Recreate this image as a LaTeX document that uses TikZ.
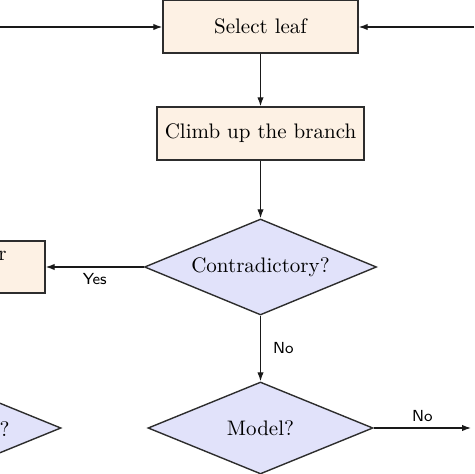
\documentclass[tikz,border=0pt]{standalone}
\usetikzlibrary{shapes.geometric,arrows.meta}
\definecolor{boxfill}{RGB}{253,241,228}
\definecolor{decfill}{RGB}{225,226,250}
\definecolor{edgecol}{RGB}{45,45,45}
\begin{document}
\begin{tikzpicture}[x=0.5pt,y=-0.5pt,
  procbox/.style={draw=edgecol,fill=boxfill,line width=0.7pt,rectangle,inner sep=0pt,
    font=\fontsize{10.5}{12}\selectfont},
  decision/.style={draw=edgecol,fill=decfill,line width=0.7pt,diamond,aspect=2.42,inner sep=0pt,
    font=\fontsize{10.5}{12}\selectfont},
  flow/.style={draw=black!90,line width=0.6pt,-{Latex[length=4.5pt,width=3.2pt]}},
  lbl/.style={font=\sffamily\fontsize{8}{10}\selectfont,inner sep=0pt}]
\useasboundingbox (0,0) rectangle (474,474);
% nodes
\node[procbox,minimum width=97.5pt,minimum height=26.5pt] (sel) at (260.5,26.5) {Select leaf};
\node[procbox,minimum width=103.5pt,minimum height=26.5pt] (climb) at (260.5,133.5) {Climb up the branch};
\node[decision,minimum width=116pt,minimum height=48pt] (contr) at (260.5,267) {Contradictory?};
\node[decision,minimum width=112.5pt,minimum height=46pt] (model) at (260.5,428) {Model?};
\node[procbox,minimum width=72.5pt,minimum height=26pt] (leftbox) at (-27.5,267) {};
\node[font=\fontsize{10.5}{12}\selectfont,inner sep=0pt] (lefttxt) at (2.5,256) {r};
\node[decision,minimum width=112.5pt,minimum height=46pt] (leftdec) at (-51.5,428) {};
\node[font=\fontsize{10.5}{12}\selectfont,inner sep=0pt] (lefttq) at (4.5,429) {?};
\coordinate (inL) at (0,27);
\coordinate (inR) at (474,27);
\coordinate (outR) at (471,428);
% connectors
\draw[flow] (inL) -- (sel.west |- inL);
\draw[flow] (inR) -- (sel.east |- inR);
\draw[flow] (sel.south) -- (climb.north);
\draw[flow] (climb.south) -- (contr.north);
\draw[flow] (contr.west) -- node[lbl,below=3pt] {Yes} (leftbox.east);
\draw[flow] (contr.south) -- node[lbl,right=6pt] {No} (model.north);
\draw[flow] (model.east) -- node[lbl,above=3pt] {No} (outR);
\end{tikzpicture}
\end{document}
